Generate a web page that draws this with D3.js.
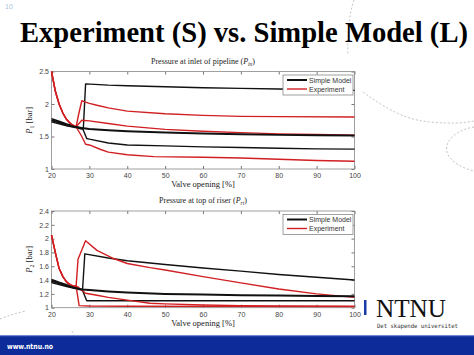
<!DOCTYPE html>
<html>
<head>
<meta charset="utf-8">
<script src="https://cdn.jsdelivr.net/npm/d3@7"></script>
<style>
    body { margin: 0; background: #fff; }
    svg { display: block; }
</style>
</head>
<body>
<div id="slide"></div>
<script>
// valve opening [%] against pressure [bar], each series is a list of [x, y] points

// top panel: pressure at inlet of pipeline
let inletModelMax = [[20, 1.775], [22, 1.735], [24, 1.695], [26, 1.66], [28.4, 1.62], [29, 2.31], [35, 2.29], [40, 2.28], [50, 2.265], [60, 2.25], [70, 2.24], [80, 2.23], [90, 2.22], [100, 2.21]];
let inletModelMean = [[20, 1.75], [22, 1.715], [24, 1.68], [26, 1.65], [28, 1.63], [30, 1.615], [35, 1.595], [40, 1.58], [50, 1.56], [60, 1.545], [70, 1.535], [80, 1.525], [90, 1.52], [100, 1.515]];
let inletModelMin = [[20, 1.725], [22, 1.695], [24, 1.665], [26, 1.64], [28.3, 1.61], [29.3, 1.47], [30, 1.46], [35, 1.40], [40, 1.37], [50, 1.355], [60, 1.34], [70, 1.33], [80, 1.32], [90, 1.31], [100, 1.305]];
let inletExpMax = [[20, 2.5], [21, 2.2], [22, 2.0], [23, 1.86], [24, 1.76], [25, 1.70], [26, 1.66], [26.5, 1.65], [27.2, 1.85], [28, 2.05], [29, 2.03], [30, 2.01], [32, 1.98], [35, 1.94], [40, 1.89], [50, 1.85], [60, 1.825], [70, 1.81], [80, 1.805], [100, 1.80]];
let inletExpMean = [[20, 2.5], [21, 2.2], [22, 2.0], [23, 1.86], [24, 1.76], [25, 1.70], [26, 1.66], [26.5, 1.65], [28, 1.75], [30, 1.74], [35, 1.70], [40, 1.66], [50, 1.61], [60, 1.58], [70, 1.56], [80, 1.54], [90, 1.53], [100, 1.52]];
let inletExpMin = [[20, 2.5], [21, 2.2], [22, 2.0], [23, 1.86], [24, 1.76], [25, 1.70], [26, 1.66], [26.5, 1.65], [28, 1.50], [29, 1.38], [30, 1.37], [33, 1.30], [35, 1.26], [40, 1.22], [47, 1.19], [60, 1.18], [70, 1.17], [80, 1.15], [90, 1.13], [100, 1.12]];

// bottom panel: pressure at top of riser
let riserModelMax = [[20, 1.41], [22, 1.37], [24, 1.335], [26, 1.295], [28.2, 1.26], [28.8, 1.78], [35, 1.72], [40, 1.68], [50, 1.625], [60, 1.575], [70, 1.53], [80, 1.48], [90, 1.44], [100, 1.40]];
let riserModelMean = [[20, 1.39], [22, 1.355], [24, 1.32], [26, 1.29], [28, 1.265], [30, 1.255], [35, 1.235], [40, 1.22], [50, 1.20], [60, 1.19], [70, 1.18], [80, 1.175], [90, 1.17], [100, 1.165]];
let riserModelMin = [[20, 1.365], [22, 1.335], [24, 1.305], [26, 1.28], [28.2, 1.25], [29.3, 1.10], [40, 1.10], [60, 1.10], [100, 1.10]];
let riserExpMax = [[20, 2.05], [21, 1.8], [22, 1.57], [23, 1.45], [24, 1.37], [25, 1.33], [26, 1.31], [26.5, 1.31], [27, 1.70], [29, 1.97], [32, 1.83], [36, 1.72], [40, 1.64], [46, 1.58], [50, 1.545], [60, 1.45], [70, 1.36], [80, 1.27], [90, 1.20], [100, 1.15]];
let riserExpMean = [[20, 2.05], [21, 1.8], [22, 1.57], [23, 1.45], [24, 1.37], [25, 1.33], [26, 1.31], [26.5, 1.31], [27, 1.30], [29, 1.21], [32, 1.18], [35, 1.15], [40, 1.11], [46, 1.065], [50, 1.055], [60, 1.04], [70, 1.03], [80, 1.025], [100, 1.02]];
let riserExpMin = [[20, 2.05], [21, 1.8], [22, 1.57], [23, 1.45], [24, 1.37], [25, 1.33], [26, 1.31], [26.5, 1.31], [27.3, 1.03], [30, 1.025], [40, 1.02], [100, 1.015]];

let xTicks = [20, 30, 40, 50, 60, 70, 80, 90, 100];
let inletTicks = [1, 1.5, 2, 2.5];
let riserTicks = [1, 1.2, 1.4, 1.6, 1.8, 2, 2.2, 2.4];
let legendNames = ["Simple Model", "Experiment"];

let w = 474;
let h = 355;
let svg = d3.select("#slide")
    .append("svg")
    .attr("width", w)
    .attr("height", h);

let modelColor = "#111";
let expColor = "#d11f22";

// decorative dotted swirls of the slide template
let deco = [
    "M354,0 C349,15 347,35 348,55",
    "M363,92 C385,108 405,120 430,122 C450,124 465,123 474,121",
    "M474,127 C455,130 444,142 447,152 C450,162 462,168 474,171",
    "M0,319 C8,316 16,313 26,311",
    "M72,331 C75,338 79,346 82,355"
];
svg.selectAll("path.deco")
    .data(deco)
    .enter()
    .append("path")
    .attr("class", "deco")
    .attr("d", (d) => d)
    .attr("fill", "none")
    .attr("stroke", "#c4c4c4")
    .attr("stroke-width", 1)
    .attr("stroke-dasharray", "2,2");

// page number and title
svg.append("text")
    .attr("x", 5)
    .attr("y", 9)
    .attr("font-family", "Liberation Sans, Arial, sans-serif")
    .attr("font-size", 7)
    .attr("fill", "#a9c3dc")
    .text("10");

svg.append("text")
    .attr("x", 20)
    .attr("y", 42)
    .attr("font-family", "Liberation Serif, Times New Roman, serif")
    .attr("font-weight", "bold")
    .attr("font-size", 29)
    .attr("textLength", 448)
    .attr("lengthAdjust", "spacingAndGlyphs")
    .attr("fill", "#000")
    .text("Experiment (S) vs. Simple Model (L)");

let drawPanel = (p) => {
    let x = d3.scaleLinear()
        .domain([20, 100])
        .range([51.5, 354.5]);
    let y = d3.scaleLinear()
        .domain([p.ticks[0], p.ticks[p.ticks.length - 1]])
        .range([p.bottom, p.top]);

    let g = svg.append("g");

    let styleAxis = (sel) => {
        sel.select(".domain").remove();
        sel.selectAll(".tick line").attr("stroke", "#777");
        sel.selectAll(".tick text")
            .attr("fill", "#444")
            .attr("font-family", "Liberation Sans, Arial, sans-serif")
            .attr("font-size", 7);
    };

    g.append("g")
        .attr("transform", "translate(0, " + p.bottom + ")")
        .call(d3.axisBottom(x).tickValues(xTicks).tickSize(-3).tickPadding(4.5))
        .call(styleAxis);
    g.append("g")
        .attr("transform", "translate(0, " + p.top + ")")
        .call(d3.axisTop(x).tickValues(xTicks).tickSize(-3).tickFormat(""))
        .call(styleAxis);
    g.append("g")
        .attr("transform", "translate(51.5, 0)")
        .call(d3.axisLeft(y).tickValues(p.ticks).tickSize(-3).tickPadding(2.5).tickFormat(d3.format("")))
        .call(styleAxis);
    g.append("g")
        .attr("transform", "translate(354.5, 0)")
        .call(d3.axisRight(y).tickValues(p.ticks).tickSize(-3).tickFormat(""))
        .call(styleAxis);

    g.append("rect")
        .attr("x", 51.5)
        .attr("y", p.top)
        .attr("width", 303)
        .attr("height", p.bottom - p.top)
        .attr("fill", "none")
        .attr("stroke", "#888")
        .attr("stroke-width", 0.8);

    let line = d3.line()
        .x((d) => x(d[0]))
        .y((d) => y(d[1]));

    let series = [
        {data: p.model[0], color: modelColor, width: 1.4},
        {data: p.model[2], color: modelColor, width: 1.4},
        {data: p.exp[0], color: expColor, width: 1.4},
        {data: p.exp[1], color: expColor, width: 1.4},
        {data: p.exp[2], color: expColor, width: 1.4},
        {data: p.model[1], color: modelColor, width: 2}
    ];

    g.selectAll("path.series")
        .data(series)
        .enter()
        .append("path")
        .attr("class", "series")
        .attr("d", (d) => line(d.data))
        .attr("fill", "none")
        .attr("stroke", (d) => d.color)
        .attr("stroke-width", (d) => d.width)
        .attr("stroke-linejoin", "round");

    // legend
    let lg = g.append("g")
        .attr("transform", "translate(283, " + (p.top + 3.5) + ")");
    lg.append("rect")
        .attr("width", 70)
        .attr("height", 20)
        .attr("fill", "#fff")
        .attr("stroke", "#888")
        .attr("stroke-width", 0.8);
    lg.selectAll("line")
        .data(legendNames)
        .enter()
        .append("line")
        .attr("x1", 4)
        .attr("x2", 24)
        .attr("y1", (d, i) => 5 + i * 9)
        .attr("y2", (d, i) => 5 + i * 9)
        .attr("stroke", (d, i) => i === 0 ? modelColor : expColor)
        .attr("stroke-width", (d, i) => i === 0 ? 2 : 1.4);
    lg.selectAll("text")
        .data(legendNames)
        .enter()
        .append("text")
        .attr("x", 26)
        .attr("y", (d, i) => 7.5 + i * 9)
        .attr("font-family", "Liberation Sans, Arial, sans-serif")
        .attr("font-size", 7)
        .attr("fill", "#333")
        .text((d) => d);

    // panel title
    let t = g.append("text")
        .attr("x", 203)
        .attr("y", p.top - 8)
        .attr("text-anchor", "middle")
        .attr("font-family", "Liberation Serif, Times New Roman, serif")
        .attr("font-size", 8)
        .attr("fill", "#222");
    t.append("tspan").text(p.title + " (");
    t.append("tspan").attr("font-style", "italic").text("P");
    t.append("tspan").attr("font-style", "italic").attr("font-size", 5.5).attr("dy", 2).text(p.sub);
    t.append("tspan").attr("dy", -2).text(")");

    // x label
    g.append("text")
        .attr("x", 203)
        .attr("y", p.bottom + 18)
        .attr("text-anchor", "middle")
        .attr("font-family", "Liberation Serif, Times New Roman, serif")
        .attr("font-size", 8.5)
        .attr("fill", "#222")
        .text("Valve opening [%]");

    // y label
    let yl = g.append("text")
        .attr("transform", "translate(32, " + ((p.top + p.bottom) / 2) + ") rotate(-90)")
        .attr("text-anchor", "middle")
        .attr("font-family", "Liberation Serif, Times New Roman, serif")
        .attr("font-size", 8.5)
        .attr("fill", "#222");
    yl.append("tspan").attr("font-style", "italic").text("P");
    yl.append("tspan").attr("font-size", 6).attr("dy", 2).text(p.ySub);
    yl.append("tspan").attr("dy", -2).text(" [bar]");
};

drawPanel({
    top: 71.5, bottom: 169, ticks: inletTicks,
    model: [inletModelMax, inletModelMean, inletModelMin],
    exp: [inletExpMax, inletExpMean, inletExpMin],
    title: "Pressure at inlet of pipeline", sub: "in", ySub: "1"
});

drawPanel({
    top: 211, bottom: 307.7, ticks: riserTicks,
    model: [riserModelMax, riserModelMean, riserModelMin],
    exp: [riserExpMax, riserExpMean, riserExpMin],
    title: "Pressure at top of riser", sub: "rt", ySub: "2"
});

// NTNU logo block
svg.append("rect")
    .attr("x", 364)
    .attr("y", 300)
    .attr("width", 2.5)
    .attr("height", 15)
    .attr("fill", "#1a3aa8");

svg.append("text")
    .attr("x", 376)
    .attr("y", 317)
    .attr("font-family", "Liberation Serif, Times New Roman, serif")
    .attr("font-size", 26)
    .attr("textLength", 70)
    .attr("lengthAdjust", "spacingAndGlyphs")
    .attr("fill", "#111")
    .text("NTNU");

svg.append("text")
    .attr("x", 377)
    .attr("y", 327.5)
    .attr("font-family", "DejaVu Sans Mono, monospace")
    .attr("font-size", 6)
    .attr("textLength", 81)
    .attr("lengthAdjust", "spacingAndGlyphs")
    .attr("fill", "#333")
    .text("Det skapende universitet");

// footer bar
svg.append("rect")
    .attr("x", 0)
    .attr("y", 336)
    .attr("width", w)
    .attr("height", h - 336)
    .attr("fill", "#0d2c99");
svg.append("rect")
    .attr("x", 0)
    .attr("y", 335)
    .attr("width", w)
    .attr("height", 1.2)
    .attr("fill", "#6f8ad6");

svg.append("text")
    .attr("x", 7)
    .attr("y", 348.5)
    .attr("font-family", "DejaVu Sans, Verdana, sans-serif")
    .attr("font-weight", "bold")
    .attr("font-size", 7.5)
    .attr("textLength", 46)
    .attr("lengthAdjust", "spacingAndGlyphs")
    .attr("fill", "#fff")
    .text("www.ntnu.no");
</script>
</body>
</html>
